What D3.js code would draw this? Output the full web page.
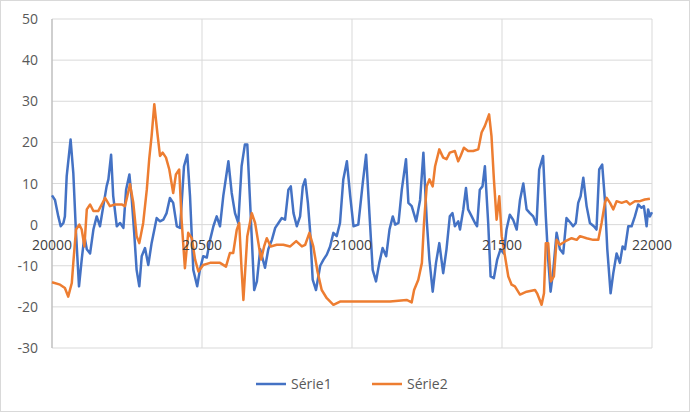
<!DOCTYPE html>
<html>
<head>
<meta charset="utf-8">
<script src="https://cdn.jsdelivr.net/npm/d3@7"></script>
<style>
  body { margin: 0; background: #fff; }
  svg { font-family: "Open Sans", "Liberation Sans", sans-serif; }
</style>
</head>
<body>
<div id="chart"></div>
<script>
const width = 690;
const height = 412;
const margin = {left: 52, right: 38, top: 19, bottom: 64};

const yTicks = [-30, -20, -10, 0, 10, 20, 30, 40, 50];
const xTicks = [20000, 20500, 21000, 21500, 22000];
const seriesNames = ["Série1", "Série2"];
const colors = ["#4472C4", "#ED7D31"];

// Série1 : [x, y]
const serie1 = [
  [20000,7.1],[20010,6],[20021,2],[20029,-0.4],[20038,0.4],[20043,2],[20049,11.8],[20062,20.7],[20071,12.6],[20080,-2],
  [20090,-15],[20099,-8.5],[20108,-2.8],[20116,-6],[20127,-7],[20138,-1.2],[20149,2],[20160,-0.4],[20171,4.5],[20182,9.3],
  [20188,11],[20197,17],[20204,7],[20216,-0.4],[20227,0.4],[20238,-0.8],[20247,8.5],[20258,12.2],[20266,6],[20274,-2],
  [20282,-11],[20291,-15],[20299,-7.7],[20310,-5.7],[20321,-9.8],[20332,-4.5],[20349,1.6],[20360,0.8],[20371,1.2],[20382,2.8],
  [20393,6.5],[20404,5.3],[20416,-0.4],[20427,-0.8],[20440,14.2],[20451,17],[20460,7],[20471,-11],[20484,-15],[20493,-11],
  [20504,-7.7],[20516,-8],[20527,-3.7],[20538,-0.4],[20549,2],[20560,-0.4],[20571,7],[20588,15.4],[20599,7.7],[20610,2.8],
  [20621,0.4],[20632,14.2],[20643,19.5],[20651,19.5],[20660,6],[20674,-15.9],[20683,-13.8],[20694,-6],[20710,-10.5],[20721,-6],
  [20733,-3.7],[20744,-0.8],[20755,0.4],[20766,1.6],[20777,1.2],[20788,8.5],[20796,9.3],[20805,2.8],[20816,-0.4],[20827,2],
  [20836,9.3],[20844,11],[20853,5.3],[20860,-1.2],[20869,-13.4],[20880,-15.9],[20894,-10],[20905,-8.5],[20916,-7.3],[20927,-5.3],
  [20938,-2],[20949,-2.8],[20960,0.4],[20971,11],[20983,15.4],[20994,7],[21005,-0.4],[21021,0],[21036,10.2],[21047,17],
  [21058,2.8],[21069,-11],[21080,-13.8],[21091,-9.3],[21102,-5.7],[21114,-7.7],[21125,-1.2],[21136,2],[21144,0],[21155,0.4],
  [21166,8.5],[21180,15.9],[21188,5.3],[21199,4.5],[21214,0.8],[21227,6],[21238,17.5],[21249,1.2],[21258,-8.5],[21269,-16.3],
  [21280,-9.3],[21291,-4.5],[21304,-11.8],[21315,-6],[21326,2],[21335,2.8],[21343,-0.4],[21354,0.8],[21360,-1.2],[21371,3.7],
  [21380,8.9],[21387,3.7],[21399,2],[21410,0.4],[21417,-0.4],[21426,8.5],[21435,9.3],[21443,14.2],[21454,0.4],[21462,-12.6],
  [21473,-13],[21484,-8.5],[21495,-6],[21506,-7],[21515,-1.2],[21526,2.4],[21537,1.2],[21549,-1.2],[21560,6],[21571,10],
  [21582,3.7],[21593,2.8],[21604,2],[21615,0],[21624,13.4],[21637,16.7],[21646,2],[21654,-8.5],[21662,-16.3],[21671,-11],
  [21682,-2],[21693,-6],[21704,-7],[21715,1.6],[21729,0.4],[21737,-0.4],[21746,0.4],[21754,5.3],[21762,6.9],[21771,11.4],
  [21782,4.5],[21793,0.4],[21806,-0.4],[21815,-1.2],[21824,13.4],[21834,14.6],[21843,6],[21851,-6],[21862,-16.7],[21871,-11.8],
  [21882,-7],[21893,-9.3],[21902,-5.3],[21910,-6],[21921,-0.4],[21932,-0.4],[21943,2],[21954,4.9],[21965,4.1],[21973,4.5],
  [21982,-0.4],[21987,3.7],[21993,2],[22000,3]
];

// Série2 : [x, y]
const serie2 = [
  [20000,-14],[20027,-14.6],[20043,-15.4],[20054,-17.5],[20066,-14.2],[20071,-9.3],[20080,-1.2],[20091,0],[20099,-1.2],[20108,-5.3],
  [20116,3.7],[20127,4.9],[20138,3.3],[20154,3.3],[20166,4.9],[20177,6.5],[20193,4.5],[20210,4.9],[20232,4.9],[20243,4.5],
  [20251,6.9],[20260,9.8],[20271,5.3],[20282,-2.8],[20291,-4.5],[20304,0.4],[20316,8.5],[20324,15.9],[20332,21.5],[20341,29.3],
  [20351,22.4],[20360,16.7],[20369,17.5],[20380,16.3],[20391,13.4],[20404,7.7],[20413,12.2],[20424,13.4],[20432,1.2],[20443,-10.6],
  [20454,-2],[20466,-3.3],[20477,-8.5],[20488,-11.4],[20504,-9.8],[20527,-9.3],[20560,-9.3],[20580,-10.2],[20593,-6.9],[20604,-6.9],
  [20616,-1.2],[20624,0.4],[20632,-11],[20638,-18.3],[20651,-2.8],[20666,2.8],[20677,0.4],[20688,-4.5],[20697,-8.5],[20707,-5.3],
  [20716,-3.3],[20729,-5.3],[20749,-4.9],[20771,-4.9],[20794,-5.3],[20814,-4],[20833,-5.3],[20844,-4.9],[20858,-2],[20871,-5.3],
  [20885,-11.4],[20899,-15.9],[20916,-17.9],[20938,-19.5],[20960,-18.7],[21016,-18.7],[21071,-18.7],[21127,-18.7],[21182,-18.3],[21199,-18.9],
  [21207,-15.9],[21221,-13.4],[21233,-9.3],[21240,0.4],[21249,9.3],[21258,11],[21269,9.3],[21277,14.2],[21291,18.3],[21304,16.3],
  [21315,15.9],[21326,17.5],[21343,17.9],[21354,15.4],[21362,16.7],[21373,18.7],[21387,17.9],[21404,17.9],[21421,18.3],[21432,22.4],
  [21443,24],[21457,26.8],[21465,21.5],[21473,11],[21482,1.2],[21491,6.9],[21499,-2.8],[21510,-7.7],[21521,-12.6],[21532,-14.6],
  [21543,-15],[21560,-17],[21582,-16.3],[21610,-15.9],[21617,-16.7],[21632,-19.5],[21640,-16.7],[21646,-4.5],[21654,-4.5],[21663,-13.8],
  [21673,-12.6],[21682,-3.7],[21693,-4.9],[21710,-4.1],[21732,-3.3],[21749,-3.7],[21760,-2.8],[21782,-3.3],[21804,-3.7],[21821,-3.7],
  [21832,0.4],[21843,5.3],[21849,6.5],[21860,5.3],[21871,3.7],[21882,5.7],[21899,5.3],[21915,5.7],[21926,4.9],[21943,5.7],
  [21960,5.7],[21976,6.1],[21993,6.3]
];

const svg = d3.select("#chart").append("svg")
  .attr("width", width)
  .attr("height", height);

svg.append("rect")
  .attr("x", 0.5).attr("y", 0.5)
  .attr("width", width - 1).attr("height", height - 1)
  .attr("fill", "#fff").attr("stroke", "#d9d9d9");

const x = d3.scaleLinear().domain([20000, 22000]).range([margin.left, width - margin.right]);
const y = d3.scaleLinear().domain([-30, 50]).range([height - margin.bottom, margin.top]);

// horizontal gridlines
svg.append("g").selectAll("line").data(yTicks).enter().append("line")
  .attr("x1", margin.left).attr("x2", width - margin.right)
  .attr("y1", d => y(d)).attr("y2", d => y(d))
  .attr("stroke", "#d9d9d9").attr("stroke-width", 1);

// vertical gridlines
svg.append("g").selectAll("line").data(xTicks.slice(1)).enter().append("line")
  .attr("x1", d => x(d)).attr("x2", d => x(d))
  .attr("y1", margin.top).attr("y2", height - margin.bottom)
  .attr("stroke", "#d9d9d9").attr("stroke-width", 1);

// left axis line
svg.append("line")
  .attr("x1", margin.left).attr("x2", margin.left)
  .attr("y1", margin.top).attr("y2", height - margin.bottom)
  .attr("stroke", "#bfbfbf").attr("stroke-width", 1.5);

svg.append("g").selectAll("text").data(yTicks).enter().append("text")
  .attr("x", margin.left - 14).attr("y", d => y(d) + 5)
  .attr("text-anchor", "end")
  .attr("font-size", 14).attr("fill", "#595959")
  .text(d => d);

const line = d3.line().x(d => x(d[0])).y(d => y(d[1]));

[serie1, serie2].forEach((s, i) => {
  svg.append("path")
    .datum(s)
    .attr("d", line)
    .attr("fill", "none")
    .attr("stroke", colors[i])
    .attr("stroke-width", 2.5)
    .attr("stroke-linejoin", "round");
});

// x labels sit on the zero line
svg.append("g").selectAll("text").data(xTicks).enter().append("text")
  .attr("x", d => x(d)).attr("y", y(0) + 25)
  .attr("text-anchor", "middle")
  .attr("font-size", 14).attr("fill", "#404040")
  .text(d => d);

// legend
const legend = svg.append("g");
const legX = [256, 372];
seriesNames.forEach((n, i) => {
  legend.append("line")
    .attr("x1", legX[i]).attr("x2", legX[i] + 30)
    .attr("y1", 384).attr("y2", 384)
    .attr("stroke", colors[i]).attr("stroke-width", 2.5);
  legend.append("text")
    .attr("x", legX[i] + 35).attr("y", 389)
    .attr("font-size", 14).attr("fill", "#595959")
    .text(n);
});
</script>
</body>
</html>
